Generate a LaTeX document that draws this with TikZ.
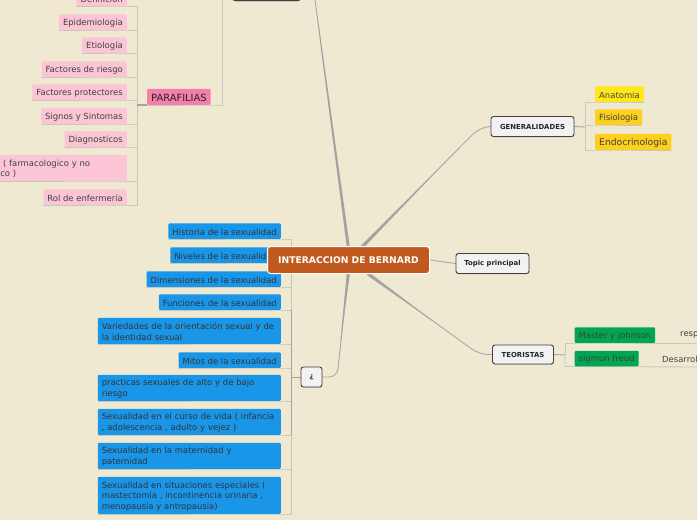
\documentclass[tikz,border=0pt]{standalone}
\usepackage{fontspec}
\setmainfont{DejaVu Sans}
\usetikzlibrary{backgrounds, shadows}

\definecolor{paper}{HTML}{EFE9D2}
\definecolor{rootfill}{HTML}{C05A1F}
\definecolor{pinkfill}{HTML}{FBC5D5}
\definecolor{rosefill}{HTML}{F47FAB}
\definecolor{bluefill}{HTML}{1A96E8}
\definecolor{yellowfill}{HTML}{FFE81A}
\definecolor{goldfill}{HTML}{FCD01C}
\definecolor{greenfill}{HTML}{00A651}
\definecolor{linkgray}{HTML}{A3A3A0}
\definecolor{branchgray}{HTML}{C9C7BB}

\tikzset{
	leafbox/.style={rounded corners=1pt, inner xsep=4pt, inner ysep=0pt, minimum height=15.5pt, font=\fontsize{8.45}{10.6}\selectfont, text=black!75, execute at begin node={\rule{0pt}{8.6pt}}},
	pinkbox/.style={leafbox, fill=pinkfill, anchor=south east},
	bluebox/.style={leafbox, fill=bluefill, anchor=south east, text=black!80},
	yellowbox/.style={leafbox, fill=yellowfill, anchor=south west},
	goldbox/.style={leafbox, fill=goldfill, anchor=south west},
	greenbox/.style={leafbox, fill=greenfill, anchor=south west},
	topicbox/.style={draw=black!75, line width=0.9pt, rounded corners=2.5pt, fill=black!5, inner sep=0pt, font=\bfseries\fontsize{6.9}{8}\selectfont, text=black!85, drop shadow={shadow xshift=0.4pt, shadow yshift=-0.8pt, opacity=.35}},
	plainlabel/.style={anchor=west, inner sep=0pt, font=\fontsize{8.45}{10.6}\selectfont, text=black!75},
	link/.style={draw=linkgray, line width=0.8pt},
	taper/.style={fill=linkgray},
	branch/.style={draw=branchgray, line width=0.9pt},
	rail/.style={draw=linkgray, line width=0.9pt}
}

\begin{document}
\begin{tikzpicture}[x=1pt, y=-1pt]
	\useasboundingbox (0, 0) rectangle (697, 520);
	\clip (0, 0) rectangle (697, 520);

	% left group, pink
	\node [pinkbox] (definicion) at (127, 6) {Definicion};
	\node [pinkbox] (epidemiologia) at (127, 30) {Epidemiologia};
	\node [pinkbox] (etiologia) at (127, 53) {Etiología};
	\node [pinkbox] (riesgo) at (127, 77) {Factores de riesgo};
	\node [pinkbox] (protectores) at (127, 100) {Factores protectores};
	\node [pinkbox] (signos) at (127, 124) {Signos y Sintomas};
	\node [pinkbox] (diagnosticos) at (127, 147) {Diagnosticos};
	\node [pinkbox, text width=126pt, inner xsep=0.5pt, minimum height=26pt, align=left] (tratamiento) at (127, 181) {\ ( farmacologico y no\\co )};
	\node [pinkbox] (rol) at (127, 205) {Rol de enfermería};
	\node [leafbox, fill=rosefill, anchor=south west, text=black!85, font=\fontsize{9.9}{10.6}\selectfont, minimum height=16pt] (parafilias) at (147, 105) {PARAFILIAS};
	\node [topicbox, anchor=south west, minimum width=68pt, minimum height=20pt, fill=black!25] (cropped) at (232, 1) {};

	% left group, blue
	\node [bluebox] (historia) at (281, 239) {Historia de la sexualidad};
	\node [bluebox] (niveles) at (281, 263) {Niveles de la sexualidad};
	\node [bluebox] (dimensiones) at (281, 287) {Dimensiones de la sexualidad};
	\node [bluebox] (funciones) at (281, 310) {Funciones de la sexualidad};
	\node [bluebox, text width=175pt, minimum height=26pt, align=left] (variedades) at (281, 344) {Variedades de la orientación sexual y de\\la identidad sexual};
	\node [bluebox] (mitos) at (281, 368) {Mitos de la sexualidad};
	\node [bluebox, text width=175pt, minimum height=26pt, align=left] (practicas) at (281, 401) {practicas sexuales de alto y de bajo\\riesgo};
	\node [bluebox, text width=175pt, minimum height=26pt, align=left] (curso) at (281, 435) {Sexualidad en el curso de vida ( infancia\\, adolescencia , adulto y vejez )};
	\node [bluebox, text width=175pt, minimum height=26pt, align=left] (maternidad) at (281, 469) {Sexualidad en la maternidad y\\paternidad};
	\node [bluebox, text width=175pt, minimum height=37pt, align=left] (especiales) at (281, 514) {Sexualidad en situaciones especiales (\\mastectomía , incontinencia urinaria ,\\menopausia y antropausia)};
	\node [topicbox, minimum width=21pt, minimum height=20pt] (signo) at (311.5, 377) {¿};

	% center and right
	\node [draw=white, line width=1pt, rounded corners=3pt, fill=rootfill, text=white, font=\bfseries\fontsize{9.2}{10}\selectfont, minimum width=162pt, minimum height=27pt, inner sep=0pt] (interaccion) at (348.5, 260) {INTERACCION DE BERNARD};
	\node [topicbox, minimum width=73pt, minimum height=20pt] (topic) at (492.5, 263.5) {Topic principal};
	\node [topicbox, minimum width=83pt, minimum height=20pt] (generalidades) at (532.5, 126.5) {GENERALIDADES};
	\node [topicbox, minimum width=61pt, minimum height=19pt] (teoristas) at (523, 354.5) {TEORISTAS};

	\node [yellowbox] (anatomia) at (595, 102) {Anatomia};
	\node [goldbox] (fisiologia) at (595, 125) {Fisiologia};
	\node [goldbox, font=\fontsize{9.2}{10.6}\selectfont, minimum height=16pt] (endocrinologia) at (595, 150) {Endocrinologia};
	\node [greenbox] (master) at (574.5, 343) {Master y johnson};
	\node [greenbox] (sigmun) at (574.5, 366.5) {sigmun freud};
	\node [plainlabel] (resp) at (680, 335.5) {resp};
	\node [plainlabel] (desarrol) at (662, 359) {Desarrol};

	\coordinate (pararail) at (137, 105);
	\coordinate (bluerail) at (291, 377);
	\coordinate (yellowrail) at (585, 127);
	\coordinate (greenrail) at (565, 355);
	\coordinate (topedge) at (315, 0);
	\coordinate (paraedge) at (222, 0);
	\coordinate (masteredge) at (697, 343);
	\coordinate (sigmunedge) at (697, 367);
	\coordinate (rootne) at (362, 246);
	\coordinate (rootse) at (368, 274);
	\coordinate (genbend) at (480, 127);
	\coordinate (teobend) at (480, 355);
	\coordinate (signobend) at (337, 377);

	\begin{scope}[on background layer]
		\fill [paper] (0, 0) rectangle (697, 520);

		% main links
		\fill [taper] (346.8, 247) -- (349.8, 247) -- (315.4, 0) -- (314.6, 0) -- cycle;
		\draw [link, rounded corners=10pt] (rootne) -- (genbend) -- (generalidades.west);
		\fill [taper] (360.6, 246) -- (363.4, 248) -- (445, 162.5) -- cycle;
		\draw [link, rounded corners=10pt] (rootse) -- (teobend) -- (teoristas.west);
		\fill [taper] (366.8, 275) -- (369, 272.5) -- (440, 326.3) -- cycle;
		\draw [link] (interaccion.east) -- (topic.west);
		\draw [link, rounded corners=8pt] (interaccion.south) -- (signobend) -- (signo.east);
		\fill [taper] (346.8, 273) -- (350, 273) -- (340, 345) -- cycle;

		% pink branches
		\draw [branch] (definicion.south west) -- (definicion.south east) -| (pararail);
		\draw [branch] (epidemiologia.south west) -- (epidemiologia.south east) -| (pararail);
		\draw [rail] (137, 53) -- (pararail);
		\draw [branch] (etiologia.south west) -- (etiologia.south east) -| (pararail);
		\draw [branch] (riesgo.south west) -- (riesgo.south east) -| (pararail);
		\draw [branch] (protectores.south west) -- (protectores.south east) -| (pararail);
		\draw [branch] (signos.south west) -- (signos.south east) -| (pararail);
		\draw [branch] (diagnosticos.south west) -- (diagnosticos.south east) -| (pararail);
		\draw [rail] (137, 147) -- (pararail);
		\draw [branch] (tratamiento.south west) -- (tratamiento.south east) -| (pararail);
		\draw [branch] (rol.south west) -- (rol.south east) -| (pararail);
		\draw [rail, line width=1.2pt] (parafilias.south west) -- (pararail);
		\draw [branch] (parafilias.south west) -- (parafilias.south east) -| (paraedge);

		% blue branches
		\draw [branch] (historia.south west) -- (historia.south east) -| (bluerail);
		\draw [branch] (niveles.south west) -- (niveles.south east) -| (bluerail);
		\draw [branch] (dimensiones.south west) -- (dimensiones.south east) -| (bluerail);
		\draw [branch] (funciones.south west) -- (funciones.south east) -| (bluerail);
		\draw [branch] (variedades.south west) -- (variedades.south east) -| (bluerail);
		\draw [branch] (mitos.south west) -- (mitos.south east) -| (bluerail);
		\draw [branch] (practicas.south west) -- (practicas.south east) -| (bluerail);
		\draw [branch] (curso.south west) -- (curso.south east) -| (bluerail);
		\draw [branch] (maternidad.south west) -- (maternidad.south east) -| (bluerail);
		\draw [branch] (especiales.south west) -- (especiales.south east) -| (bluerail);
		\draw [rail] (291, 310) -- (291, 435);
		\draw [rail] (signo.west) -- (bluerail);

		% right branches
		\draw [branch] (anatomia.south east) -- (anatomia.south west) -| (yellowrail);
		\draw [branch] (fisiologia.south east) -- (fisiologia.south west) -| (yellowrail);
		\draw [branch] (endocrinologia.south east) -- (endocrinologia.south west) -| (yellowrail);
		\draw [rail] (generalidades.east) -- (yellowrail);
		\draw [branch] (masteredge) -- (master.south west) -| (greenrail);
		\draw [branch] (sigmunedge) -- (sigmun.south west) -| (greenrail);
		\draw [rail] (teoristas.east) -- (greenrail);
	\end{scope}
\end{tikzpicture}
\end{document}
